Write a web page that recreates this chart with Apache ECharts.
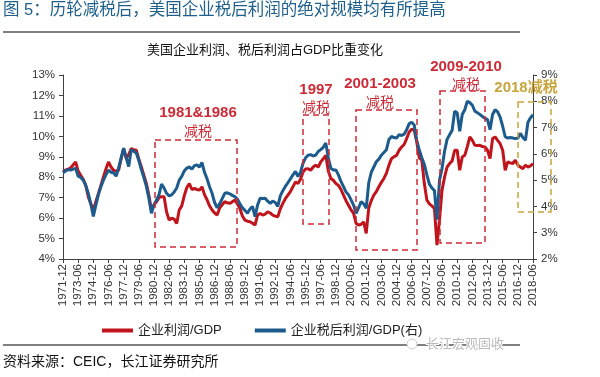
<!DOCTYPE html>
<html>
<head>
<meta charset="utf-8">
<script src="https://cdn.jsdelivr.net/npm/echarts@6/dist/echarts.min.js"></script>
<style>html,body{margin:0;padding:0;background:#fff}#c{width:600px;height:377px}</style>
</head>
<body>
<div id="c"></div>
<script>
// Quarterly categories 1971-12 .. 2018-06
const startYear = 1971, startQ = 4, endYear = 2018, endQ = 2;
const quarterMonths = ['03', '06', '09', '12'];
const categories = [];
for (let y = startYear, q = startQ; y < endYear || (y === endYear && q <= endQ); ) {
  categories.push(y + '-' + quarterMonths[q - 1]);
  q++; if (q > 4) { q = 1; y++; }
}

const seriesNames = ['企业利润/GDP', '企业税后利润/GDP(右)'];

// 企业利润/GDP (left axis, %)
const profitGDP = [
  8.26,8.35,8.40,8.45,8.60,8.75,8.30,8.10,7.90,7.60,
  7.05,6.70,6.39,6.80,7.20,7.60,8.01,8.40,8.75,8.50,
  8.34,8.30,8.34,8.90,9.40,8.95,9.10,9.40,9.35,9.32,
  8.90,8.50,8.10,7.69,7.10,6.39,6.65,6.80,7.00,7.05,
  7.04,6.30,5.90,6.00,5.95,5.74,6.40,6.60,7.10,7.50,
  7.69,7.40,7.45,7.40,7.37,7.53,7.15,6.90,6.60,6.40,
  6.25,6.15,6.50,6.65,6.80,6.75,6.72,6.80,6.88,6.70,
  6.47,6.10,5.90,5.85,5.82,5.75,5.66,6.15,6.23,6.15,
  6.20,6.31,6.25,6.15,6.10,6.06,6.45,6.72,6.95,7.12,
  7.30,7.53,7.77,7.69,7.90,8.26,8.40,8.42,8.34,8.50,
  8.59,8.50,8.75,8.90,9.07,8.30,7.94,7.85,7.69,7.60,
  7.40,7.12,6.85,6.63,6.40,6.23,5.74,5.66,5.70,5.82,
  5.25,6.50,6.85,7.12,7.30,7.53,7.75,7.94,8.20,8.59,
  8.91,9.00,9.07,9.32,9.48,9.60,9.89,10.21,10.35,10.30,
  9.72,8.95,8.83,7.69,6.88,6.70,6.60,6.47,4.68,5.90,
  7.37,8.00,8.50,8.67,8.80,9.32,9.32,8.34,8.99,9.07,
  9.50,9.97,9.80,9.56,9.55,9.56,9.50,9.48,9.32,8.91,
  9.89,9.97,9.80,9.64,9.32,8.34,8.75,8.70,8.67,8.83,
  8.59,8.50,8.42,8.59,8.50,8.55,8.67
];

// 企业税后利润/GDP (right axis, %)
const afterTaxProfitGDP = [
  5.28,5.35,5.40,5.38,5.42,5.45,5.15,5.10,5.00,4.80,
  4.50,4.10,3.62,4.05,4.45,4.75,5.00,5.20,5.38,5.30,
  5.28,5.15,5.45,5.85,6.22,5.85,5.52,6.16,6.10,6.03,
  5.75,5.40,5.10,4.76,4.30,3.74,4.05,4.25,4.45,4.85,
  4.70,4.50,4.40,4.44,4.55,4.70,5.00,5.14,5.35,5.46,
  5.50,5.42,5.55,5.58,5.50,5.67,5.30,5.05,4.75,4.50,
  4.15,3.95,4.10,4.30,4.50,4.52,4.48,4.42,4.37,4.28,
  4.10,3.95,3.85,3.74,3.90,4.00,3.61,4.05,4.31,4.30,
  4.31,4.20,4.12,4.20,4.15,4.00,4.40,4.60,4.76,4.90,
  5.05,5.20,5.33,5.14,5.30,5.65,5.85,5.95,5.97,5.92,
  5.95,6.09,6.16,6.25,6.41,5.85,5.45,5.39,5.39,5.20,
  4.95,4.75,4.55,4.44,4.25,4.05,3.74,3.95,4.18,4.10,
  3.93,4.90,5.30,5.50,5.70,5.80,5.95,6.05,6.16,6.55,
  6.66,6.62,6.60,6.73,6.70,6.75,6.92,7.15,7.20,7.10,
  6.50,6.15,5.85,5.60,5.20,4.85,4.70,4.60,3.50,5.00,
  5.45,6.10,6.55,6.73,6.90,7.62,7.56,6.86,7.50,7.68,
  8.00,7.95,7.85,7.62,7.56,7.50,7.42,7.35,7.30,6.92,
  7.50,7.68,7.60,7.40,7.05,6.65,6.60,6.62,6.60,6.58,
  6.60,6.78,6.62,6.52,7.20,7.37,7.49
];

const leftTicks = { min: 4, max: 13, interval: 1 };
const rightTicks = { min: 2, max: 9, interval: 1 };

const FONT = '"Liberation Sans", Arial, "Noto Sans CJK SC", sans-serif';
const CJK = '"Liberation Sans", "Noto Sans CJK SC", sans-serif';
const RED = '#C0141C', BLUE = '#1C5B8C', AXIS = '#404040';
const ANN_RED = '#CC2A36', ANN_GOLD = '#C8A53C';

function dashedBox(x1, y1, x2, y2, color) {
  return {
    type: 'rect', shape: { x: x1, y: y1, width: x2 - x1, height: y2 - y1 },
    style: { fill: 'none', stroke: color, lineWidth: 1.5, lineDash: [6, 4] }, z: 10
  };
}
function annText(x, y, text, color, size, bold) {
  return {
    type: 'text', x: x, y: y, z: 11,
    style: { text: text, fill: color, font: (bold ? 'bold ' : '') + size + 'px ' + CJK,
             textAlign: 'center', textVerticalAlign: 'middle' }
  };
}

const chart = echarts.init(document.getElementById('c'), null, { renderer: 'canvas' });
chart.setOption({
  animation: false,
  backgroundColor: '#fff',
  grid: { left: 63, right: 67, top: 75, bottom: 118, containLabel: false },
  legend: {
    left: 97, top: 319, itemWidth: 31, itemHeight: 4, itemGap: 33, icon: 'rect',
    textStyle: { fontFamily: CJK, fontSize: 13, color: '#222' },
    data: seriesNames
  },
  xAxis: {
    type: 'category', data: categories, boundaryGap: false,
    axisLine: { lineStyle: { color: AXIS, width: 1 } },
    axisTick: { interval: 5, length: 4, lineStyle: { color: AXIS } },
    axisLabel: { interval: 5, rotate: 90, fontSize: 11.5, color: '#333', fontFamily: FONT, margin: 5 },
    splitLine: { show: false }
  },
  yAxis: [
    {
      type: 'value', min: leftTicks.min, max: leftTicks.max, interval: leftTicks.interval, position: 'left',
      axisLine: { show: true, lineStyle: { color: AXIS } },
      axisTick: { show: true, length: 4, lineStyle: { color: AXIS } },
      axisLabel: { formatter: '{value}%', fontSize: 11.5, color: '#333', fontFamily: FONT, margin: 8 },
      splitLine: { show: false }
    },
    {
      type: 'value', min: rightTicks.min, max: rightTicks.max, interval: rightTicks.interval, position: 'right',
      axisLine: { show: true, lineStyle: { color: AXIS } },
      axisTick: { show: true, length: 4, lineStyle: { color: AXIS } },
      axisLabel: { formatter: '{value}%', fontSize: 11.5, color: '#333', fontFamily: FONT, margin: 8 },
      splitLine: { show: false }
    }
  ],
  series: [
    { name: seriesNames[0], type: 'line', yAxisIndex: 0, data: profitGDP, showSymbol: false,
      lineStyle: { color: RED, width: 3 }, itemStyle: { color: RED }, z: 2 },
    { name: seriesNames[1], type: 'line', yAxisIndex: 1, data: afterTaxProfitGDP, showSymbol: false,
      lineStyle: { color: BLUE, width: 3 }, itemStyle: { color: BLUE }, z: 3 }
  ],
  graphic: [
    { type: 'text', left: 3, top: 2,
      style: { text: '图 5：历轮减税后，美国企业税后利润的绝对规模均有所提高', fill: '#1F5F8B', font: '16.5px ' + CJK } },
    { type: 'line', shape: { x1: 3, y1: 32, x2: 520, y2: 32 }, style: { stroke: '#555', lineWidth: 1.5 } },
    { type: 'text', x: 265, y: 50,
      style: { text: '美国企业利润、税后利润占GDP比重变化', fill: '#111', font: '13px ' + CJK, textAlign: 'center', textVerticalAlign: 'middle' } },
    dashedBox(155, 140, 237, 247, ANN_RED),
    annText(198, 113, '1981&1986', ANN_RED, 15, true),
    annText(198, 132, '减税', ANN_RED, 14, false),
    dashedBox(303, 115, 329, 224, ANN_RED),
    annText(316, 90, '1997', ANN_RED, 15, true),
    annText(316, 108, '减税', ANN_RED, 14, false),
    dashedBox(356, 110, 417, 250, ANN_RED),
    annText(380, 84, '2001-2003', ANN_RED, 15, true),
    annText(380, 103, '减税', ANN_RED, 14, false),
    dashedBox(440, 91, 485, 243, ANN_RED),
    annText(466, 67, '2009-2010', ANN_RED, 15, true),
    annText(466, 85, '减税', ANN_RED, 14, false),
    dashedBox(518, 102, 551, 212, ANN_GOLD),
    annText(526, 88, '2018减税', ANN_GOLD, 15, true),
    { type: 'line', shape: { x1: 3, y1: 345, x2: 520, y2: 345 }, style: { stroke: '#555', lineWidth: 1.5 } },
    { type: 'text', left: 425, top: 337, z: 12,
      style: { text: '长江宏观固收', fill: '#bbb', font: '13px ' + CJK, stroke: '#fff', lineWidth: 2 } },
    { type: 'circle', shape: { cx: 412, cy: 344, r: 5 }, style: { fill: '#fff', stroke: '#ccc', lineWidth: 1 }, z: 12 },
    { type: 'text', left: 3, top: 355,
      style: { text: '资料来源：CEIC，长江证券研究所', fill: '#111', font: '14px ' + CJK } }
  ]
});
</script>
</body>
</html>
